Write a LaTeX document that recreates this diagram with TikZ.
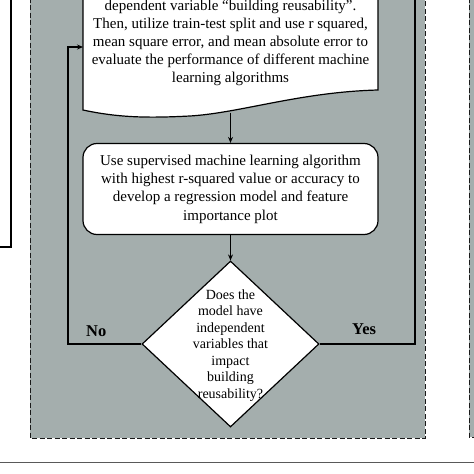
\documentclass[tikz,border=0pt]{standalone}
\usepackage{fontspec}
\setmainfont{Liberation Serif}
\usetikzlibrary{shapes.geometric,arrows.meta}
\definecolor{panel}{RGB}{164,174,173}
\begin{document}
\begin{tikzpicture}[x=1pt,y=-1pt,
  line/.style={line width=1.2pt,draw=black},
  flow/.style={line,-{Stealth[length=6pt,width=5pt]}},
  panelbox/.style={fill=panel,draw=black!90,line width=1pt,dash pattern=on 5pt off 2.5pt},
  txt/.style={align=center,font=\fontsize{15}{18}\selectfont,inner sep=0pt},
  smalltxt/.style={align=center,font=\fontsize{14}{16.5}\selectfont,inner sep=0pt},
  lbl/.style={font=\bfseries\fontsize{16.5}{18}\selectfont,anchor=base west,inner sep=0pt}]
\useasboundingbox (0,0) rectangle (474,474);
% panels
\path[panelbox] (30,-10) rectangle (425,438);
\path[panelbox] (469,-10) rectangle (484,437);
\draw[line,fill=white] (-10,-10) rectangle (11,247);
\draw[black!65,line width=1pt] (0,462) -- (474,462);
% top document-shaped box
\draw[line,fill=white] (83,-10) -- (83,110)
  .. controls (120,118) and (150,118) .. (190,116)
  .. controls (240,113) and (300,92) .. (378,90) -- (378,-10);
\node[txt] (toptext) at (230.5,42.5) {dependent variable “building reusability”.\\Then, utilize train-test split and use r squared,\\mean square error, and mean absolute error to\\evaluate the performance of different machine\\learning algorithms};
\coordinate (topbot) at (230.5,112.5);
\coordinate (topin) at (83,47);
% second box
\node[line,fill=white,rounded corners=14pt,minimum width=295pt,minimum height=91pt,txt,font=\fontsize{15}{18.3}\selectfont] (box2) at (230.5,189) {Use supervised machine learning algorithm\\with highest r-squared value or accuracy to\\develop a regression model and feature\\importance plot};
% decision
\node[diamond,line,fill=white,minimum width=177pt,minimum height=166pt,inner sep=0pt] (dia) at (230.5,344) {};
\node[smalltxt] (diatext) at (230.5,345.2) {Does the\\model have\\independent\\variables that\\impact\\building\\reusability?};
\coordinate (yesend) at (415,-10);
% connectors
\draw[flow] (topbot) -- (box2.north);
\draw[flow] (box2.south) -- (dia.north);
\draw[flow] (dia.west) -| ([xshift=-15pt]topin) -- (topin);
\draw[line] (dia.east) -| (yesend);
\node[lbl] (no) at (86,336) {No};
\node[lbl] (yes) at (352,334) {Yes};
\end{tikzpicture}
\end{document}
